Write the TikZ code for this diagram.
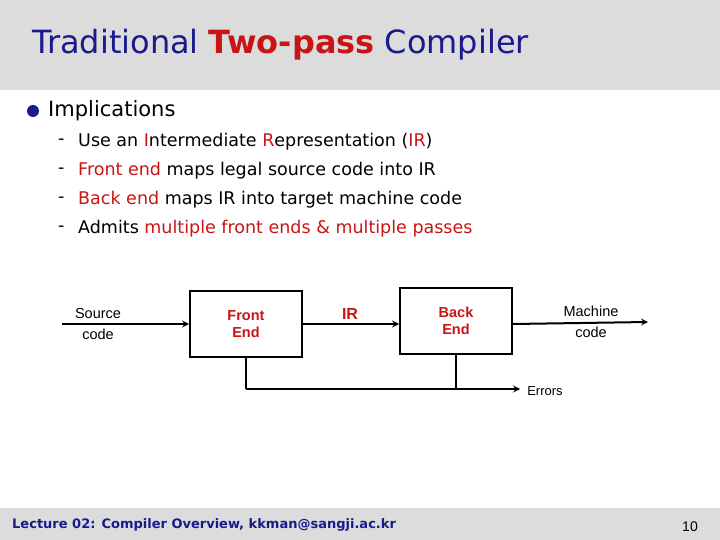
\documentclass[tikz,border=0pt]{standalone}
\usepackage{fontspec}
\setmainfont{DejaVu Sans}
\newfontfamily\arialf{Liberation Sans}
\definecolor{ttl}{RGB}{26,26,140}
\definecolor{rd}{RGB}{200,20,20}
\definecolor{bandg}{RGB}{220,220,220}
\begin{document}
\begin{tikzpicture}[x=1pt,y=-1pt,
  blk/.style={draw,line width=2pt,minimum width=112pt,minimum height=66pt,font=\arialf\bfseries\fontsize{14.5}{17}\selectfont,text=rd,align=center},
  lbl/.style={font=\arialf\fontsize{14.5}{21}\selectfont,align=center},
  wire/.style={line width=2pt},
  arr/.style={line width=2pt,-stealth},
  itm/.style={anchor=west,font=\fontsize{17.5}{20}\selectfont,inner sep=0pt}]
\useasboundingbox (0,0) rectangle (720,540);
\fill[bandg] (0,0) rectangle (720,90);
\fill[bandg] (0,508) rectangle (720,540);
\node[anchor=west,inner sep=0pt,text=ttl,font=\fontsize{32}{36}\selectfont] (title) at (32,45) {Traditional \textcolor{rd}{\bfseries Two-pass} Compiler};
\fill[ttl] (33,111) circle (6);
\node[anchor=west,inner sep=0pt,font=\fontsize{21}{24}\selectfont] (impl) at (48,111) {Implications};
\foreach \y/\t in {142/{Use an \textcolor{rd}{I}ntermediate \textcolor{rd}{R}epresentation (\textcolor{rd}{IR})},
  171/{\textcolor{rd}{Front end} maps legal source code into IR},
  200/{\textcolor{rd}{Back end} maps IR into target machine code},
  229/{Admits \textcolor{rd}{multiple front ends \& multiple passes}}}{
  \node[itm] at (58,\y) {-};
  \node[itm] at (78,\y) {\t};}
\node[blk] (fe) at (246,324) {Front\\End};
\node[blk] (be) at (456,321) {Back\\End};
\coordinate (src) at (62,324);
\coordinate (mc) at (648,322);
\coordinate (fed) at (246,389);
\coordinate (bed) at (456,389);
\coordinate (err) at (520,389);
\draw[arr] (src) -- (fe.west |- src);
\draw[arr] (fe.east |- src) -- (be.west |- src);
\draw[arr] (be.east |- src) -- (mc);
\draw[wire] (fe.south) -- (fed);
\draw[wire] (be.south) -- (bed);
\draw[arr] (fed) -- (err);
\node[lbl] (srcl) at (98,324) {Source\\code};
\node[lbl] (mcl) at (591,322) {Machine\\code};
\node[font=\arialf\bfseries\fontsize{16}{18}\selectfont,text=rd] (ir) at (350,314) {IR};
\node[lbl,font=\arialf\fontsize{13}{15}\selectfont] (errl) at (545,391) {Errors};
\node[anchor=west,inner sep=0pt,text=ttl,font=\bfseries\fontsize{13}{15}\selectfont] (foot) at (12,525) {Lecture 02: Compiler Overview, kkman@sangji.ac.kr};
\node[font=\arialf\fontsize{14}{16}\selectfont] (pg) at (690,527) {10};
\end{tikzpicture}
\end{document}
